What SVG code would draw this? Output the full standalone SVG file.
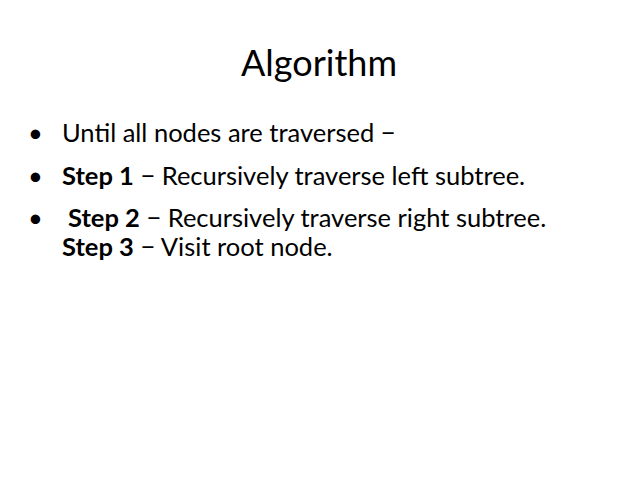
<svg xmlns="http://www.w3.org/2000/svg" width="638" height="478" viewBox="0 0 638 478">
<style>
text{font-family:Lato,"Open Sans",sans-serif;fill:#000}
.b{font-size:25.5px}
.t{font-size:36px}
</style>
<rect width="638" height="478" fill="#fff"/>
<text class="t" x="319" y="76" text-anchor="middle">Algorithm</text>
<g class="b">
<text x="28" y="142">•</text>
<text x="62" y="142">Until all nodes are traversed −</text>
<text x="28" y="185">•</text>
<text x="62" y="185"><tspan font-weight="bold">Step 1</tspan> − Recursively traverse left subtree.</text>
<text x="28" y="227">•</text>
<text x="68" y="227"><tspan font-weight="bold">Step 2</tspan> − Recursively traverse right subtree.</text>
<text x="62" y="256"><tspan font-weight="bold">Step 3</tspan> − Visit root node.</text>
</g>
</svg>
